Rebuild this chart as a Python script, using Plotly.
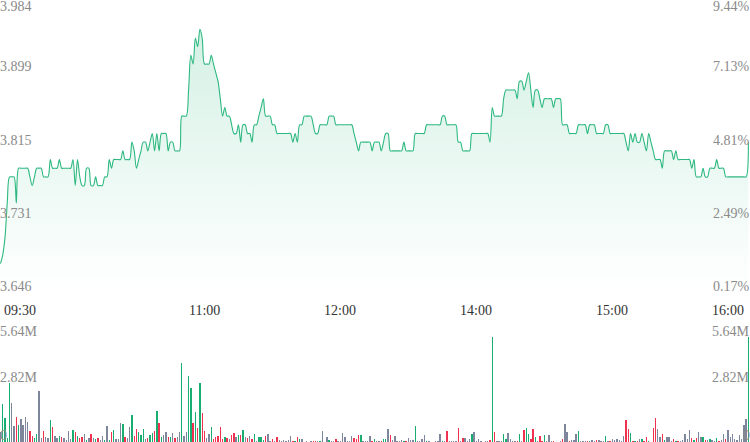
import plotly.graph_objects as go

# ---------------- data ----------------
time_labels = ["09:30", "11:00", "12:00", "14:00", "15:00", "16:00"]
time_label_index = [0, 90, 150, 210, 270, 330]

price = [
    3.68, 3.69, 3.71, 3.75, 3.78, 3.78, 3.78, 3.75, 3.79, 3.79,
    3.79, 3.79, 3.79, 3.78, 3.77, 3.78, 3.79, 3.79, 3.79, 3.78,
    3.78, 3.78, 3.80, 3.79, 3.79, 3.79, 3.80, 3.79, 3.79, 3.79,
    3.79, 3.79, 3.80, 3.77, 3.80, 3.78, 3.77, 3.77, 3.79, 3.79,
    3.77, 3.77, 3.78, 3.77, 3.77, 3.77, 3.78, 3.78, 3.80, 3.79,
    3.80, 3.80, 3.80, 3.80, 3.81, 3.80, 3.80, 3.80, 3.82, 3.81,
    3.79, 3.80, 3.81, 3.82, 3.82, 3.81, 3.82, 3.83, 3.81, 3.83,
    3.81, 3.83, 3.83, 3.83, 3.81, 3.82, 3.82, 3.81, 3.81, 3.81,
    3.85, 3.85, 3.85, 3.88, 3.92, 3.91, 3.94, 3.93, 3.95, 3.94,
    3.91, 3.91, 3.91, 3.92, 3.91, 3.90, 3.89, 3.87, 3.85, 3.86,
    3.85, 3.85, 3.84, 3.83, 3.83, 3.84, 3.82, 3.84, 3.84, 3.83,
    3.83, 3.82, 3.84, 3.84, 3.85, 3.86, 3.87, 3.85, 3.85, 3.85,
    3.84, 3.84, 3.83, 3.83, 3.83, 3.83, 3.83, 3.83, 3.83, 3.82,
    3.83, 3.82, 3.84, 3.84, 3.85, 3.85, 3.85, 3.85, 3.84, 3.83,
    3.83, 3.84, 3.84, 3.84, 3.84, 3.85, 3.85, 3.85, 3.84, 3.84,
    3.84, 3.84, 3.84, 3.84, 3.84, 3.84, 3.83, 3.82, 3.81, 3.82,
    3.82, 3.82, 3.82, 3.82, 3.81, 3.82, 3.82, 3.82, 3.81, 3.82,
    3.83, 3.83, 3.81, 3.81, 3.81, 3.81, 3.81, 3.81, 3.82, 3.81,
    3.81, 3.81, 3.81, 3.83, 3.83, 3.83, 3.83, 3.83, 3.84, 3.84,
    3.84, 3.84, 3.84, 3.84, 3.84, 3.85, 3.85, 3.84, 3.84, 3.84,
    3.84, 3.84, 3.82, 3.82, 3.81, 3.81, 3.81, 3.81, 3.83, 3.83,
    3.83, 3.83, 3.83, 3.83, 3.83, 3.83, 3.82, 3.86, 3.85, 3.85,
    3.85, 3.85, 3.87, 3.88, 3.88, 3.88, 3.88, 3.88, 3.87, 3.89,
    3.89, 3.88, 3.89, 3.90, 3.88, 3.86, 3.88, 3.88, 3.87, 3.86,
    3.87, 3.87, 3.87, 3.87, 3.86, 3.87, 3.87, 3.87, 3.84, 3.84,
    3.84, 3.83, 3.83, 3.83, 3.83, 3.84, 3.84, 3.84, 3.84, 3.83,
    3.84, 3.84, 3.84, 3.83, 3.83, 3.83, 3.83, 3.84, 3.84, 3.83,
    3.83, 3.83, 3.83, 3.83, 3.83, 3.83, 3.82, 3.81, 3.83, 3.82,
    3.83, 3.82, 3.82, 3.83, 3.82, 3.81, 3.83, 3.82, 3.81, 3.80,
    3.80, 3.80, 3.79, 3.81, 3.81, 3.81, 3.81, 3.80, 3.81, 3.80,
    3.80, 3.80, 3.80, 3.80, 3.80, 3.79, 3.80, 3.78, 3.78, 3.78,
    3.79, 3.78, 3.78, 3.79, 3.79, 3.79, 3.80, 3.79, 3.79, 3.79,
    3.78, 3.78, 3.78, 3.78, 3.78, 3.78, 3.78, 3.78, 3.78, 3.78,
    3.82,
]

volume_m = [
    0.50, 1.83, 1.14, 0.20, 2.83, 1.90, 0.77, 1.19, 0.82, 1.09,
    0.82, 1.19, 0.98, 0.55, 0.29, 0.18, 0.39, 2.48, 0.18, 0.53,
    0.26, 0.18, 1.06, 0.74, 0.29, 0.18, 0.29, 0.26, 0.18, 0.10,
    0.55, 0.13, 0.58, 0.50, 0.29, 0.18, 0.26, 0.39, 0.10, 0.18,
    0.39, 0.18, 0.13, 0.18, 0.10, 0.29, 0.10, 0.77, 0.10, 0.50,
    0.58, 0.13, 0.13, 0.93, 0.87, 0.23, 0.18, 0.71, 1.30, 0.29,
    0.61, 0.50, 0.34, 0.61, 0.13, 0.18, 0.34, 0.42, 0.53, 1.51,
    0.90, 0.23, 0.34, 0.50, 0.26, 0.23, 0.42, 0.18, 0.26, 0.50,
    3.79, 0.29, 0.50, 3.18, 2.59, 0.93, 1.46, 0.66, 2.83, 1.38,
    0.55, 0.18, 0.39, 0.74, 0.13, 0.23, 0.29, 0.74, 0.13, 0.26,
    0.18, 0.13, 0.34, 0.42, 0.23, 0.34, 0.34, 0.58, 0.23, 0.18,
    0.30, 0.13, 0.39, 0.06, 0.26, 0.26, 0.10, 0.29, 0.39, 0.06,
    0.13, 0.06, 0.23, 0.10, 0.06, 0.10, 0.06, 0.10, 0.29, 0.06,
    0.06, 0.23, 0.13, 0.14, 0.01, 0.03, 0.01, 0.03, 0.03, 0.06,
    0.03, 0.06, 0.53, 0.01, 0.23, 0.10, 0.03, 0.03, 0.13, 0.03,
    0.06, 0.42, 0.26, 0.03, 0.03, 0.29, 0.18, 0.13, 0.34, 0.34,
    0.03, 0.03, 0.03, 0.29, 0.06, 0.16, 0.03, 0.03, 0.03, 0.14,
    0.13, 0.63, 0.34, 0.10, 0.29, 0.06, 0.03, 0.10, 0.03, 0.03,
    0.18, 0.10, 0.10, 0.79, 0.06, 0.03, 0.13, 0.34, 0.03, 0.03,
    0.01, 0.01, 0.06, 0.06, 0.39, 0.03, 0.03, 0.53, 0.03, 0.03,
    0.03, 0.06, 0.69, 0.03, 0.21, 0.21, 0.03, 0.14, 0.39, 0.47,
    0.03, 0.13, 0.06, 0.01, 0.03, 0.03, 0.10, 5.08, 0.47, 0.06,
    0.03, 0.06, 0.39, 0.13, 0.42, 0.13, 0.06, 0.06, 0.06, 0.39,
    0.03, 0.58, 0.69, 0.39, 0.13, 0.63, 0.26, 0.06, 0.29, 0.06,
    0.34, 0.03, 0.34, 0.06, 0.03, 0.01, 0.01, 0.03, 0.13, 0.87,
    0.47, 0.06, 0.10, 0.10, 0.39, 0.55, 0.06, 0.06, 0.06, 0.06,
    0.06, 0.10, 0.06, 0.10, 0.10, 0.06, 0.06, 0.29, 0.06, 0.06,
    0.13, 0.10, 0.13, 0.10, 0.06, 0.29, 1.06, 0.63, 0.42, 0.06,
    0.06, 0.06, 0.13, 0.16, 0.06, 0.23, 0.06, 0.01, 0.66, 1.14,
    0.63, 0.26, 0.39, 0.10, 0.23, 0.23, 0.06, 0.16, 0.06, 0.03,
    0.06, 0.10, 0.39, 0.13, 0.58, 0.18, 0.10, 0.18, 0.47, 0.23,
    0.26, 0.10, 0.10, 0.13, 0.10, 0.06, 0.18, 0.06, 0.10, 0.39,
    0.14, 0.58, 0.23, 0.39, 0.16, 0.10, 0.32, 0.13, 0.82, 1.09,
    5.08,
]

price_ticks = [3.64625, 3.730625, 3.815, 3.899375, 3.98375]
price_tick_labels = ["3.646", "3.731", "3.815", "3.899", "3.984"]
pct_tick_labels = ["0.17%", "2.49%", "4.81%", "7.13%", "9.44%"]
volume_ticks = [0, 2.82e6, 5.64e6]
volume_tick_labels = ["0", "2.82M", "5.64M"]

# ---------------- figure ----------------
idx = list(range(len(price)))
volume = [v * 1e6 for v in volume_m]

UP, DOWN, FLAT = "#1aad72", "#f0314f", "#7d869a"
bar_colors = []
for i, p in enumerate(price):
    prev = price[i - 1] if i > 0 else p
    bar_colors.append(UP if p > prev else DOWN if p < prev else FLAT)

LINE = "#2db880"
fig = go.Figure()
fig.add_trace(go.Scatter(
    x=idx, y=price, mode="lines",
    line=dict(color=LINE, width=1.1, shape="spline", smoothing=0.9),
    fill="tozeroy",
    fillgradient=dict(type="vertical", start=price_ticks[0], stop=max(price),
                      colorscale=[[0, "rgba(45,184,128,0.0)"], [1, "rgba(45,184,128,0.2)"]]),
    hoverinfo="skip", xaxis="x", yaxis="y",
))
fig.add_trace(go.Bar(
    x=idx, y=volume, width=0.6, marker=dict(color=bar_colors, line=dict(width=0)),
    xaxis="x2", yaxis="y2", hoverinfo="skip",
))

x_range = [-0.2, 330.7]
axis_common = dict(showgrid=False, zeroline=False, showticklabels=False, showline=False, ticks="")
fig.update_layout(
    width=750, height=442, margin=dict(l=0, r=0, t=0, b=0),
    paper_bgcolor="white", plot_bgcolor="white", showlegend=False,
    xaxis=dict(domain=[0, 1], range=x_range, anchor="y", **axis_common),
    yaxis=dict(domain=[1 - 293 / 442, 1], range=[price_ticks[0], price_ticks[-1]], anchor="x", **axis_common),
    xaxis2=dict(domain=[0, 1], range=x_range, anchor="y2", **axis_common),
    yaxis2=dict(domain=[0, 1 - 325 / 442], range=[volume_ticks[0], volume_ticks[-1]], anchor="x2", **axis_common),
    bargap=0,
)

FONT = "Liberation Serif, Times New Roman, serif"
gray = dict(family=FONT, size=14, color="#8a8a8a")
dark = dict(family=FONT, size=14, color="#333333")
ann = []


def add_side_labels(values, left_labels, right_labels, yref):
    last = len(values) - 1
    for k, (v, ll, rl) in enumerate(zip(values, left_labels, right_labels)):
        ya = "top" if k == last else "bottom"
        ys = 3 if k == last else -3
        ann.append(dict(x=0, y=v, xref="paper", yref=yref, text=ll, showarrow=False,
                        xanchor="left", yanchor=ya, font=gray, xshift=-2, yshift=ys))
        ann.append(dict(x=1, y=v, xref="paper", yref=yref, text=rl, showarrow=False,
                        xanchor="right", yanchor=ya, font=gray, xshift=2, yshift=ys))


add_side_labels(price_ticks, price_tick_labels, pct_tick_labels, "y")
add_side_labels(volume_ticks, volume_tick_labels, volume_tick_labels, "y2")

for k, (ti, tl) in enumerate(zip(time_label_index, time_labels)):
    xa = "left" if k == 0 else ("right" if k == len(time_labels) - 1 else "center")
    ann.append(dict(x=ti, y=1 - 310 / 442, xref="x", yref="paper", text=tl, showarrow=False,
                    xanchor=xa, yanchor="middle", font=dark,
                    xshift=2 if k == 0 else (-2 if xa == "right" else 0)))
fig.update_layout(annotations=ann)

fig.write_html(
    "out.html",
    config={"displayModeBar": False, "staticPlot": True},
    post_script="document.body.style.margin='0';document.body.style.overflow='hidden';",
)
